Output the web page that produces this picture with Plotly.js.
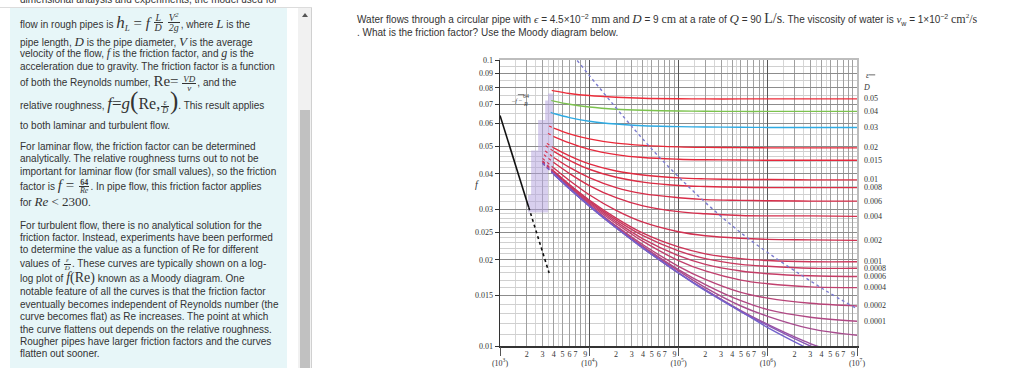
<!DOCTYPE html>
<html><head><meta charset="utf-8">
<script src="https://cdn.plot.ly/plotly-3.0.1.min.js"></script>
<style>
body{margin:0;width:1024px;height:368px;overflow:hidden;background:#fff;position:relative;font-family:'Liberation Sans',Arial,sans-serif;color:#333;font-size:10px;}
.ln{position:absolute;left:20px;white-space:nowrap;line-height:14px;height:14px;}
.q{position:absolute;left:357px;white-space:nowrap;line-height:14px;height:14px;}
.m{font-family:'Liberation Serif','DejaVu Serif',serif;line-height:0;}
.i{font-style:italic;}
.fr{display:inline-block;vertical-align:middle;text-align:center;font-family:'Liberation Serif','DejaVu Serif',serif;font-style:italic;line-height:0.92;margin:-10px 1px;position:relative;}
.fr>span{display:block;padding:0 1px;}
.fr>span.d{border-top:1px solid #333;}
sup,sub{line-height:0;font-size:7px;}
#panel{position:absolute;left:10px;top:8px;width:277px;height:360px;background:#e7f6f8;}
#topline{position:absolute;left:0;top:7px;width:312px;height:1px;background:#dcdcdc;}
#track{position:absolute;left:298px;top:8px;width:13px;height:360px;background:#f1f1f1;border-right:1px solid #d0d0d0;}
#thumb{position:absolute;left:300px;top:110px;width:10px;height:258px;background:#c1c1c1;}
#arrow{position:absolute;left:302px;top:13px;width:0;height:0;border-left:3.5px solid transparent;border-right:3.5px solid transparent;border-bottom:4px solid #555;}
#chart{position:absolute;left:440px;top:50px;width:500px;height:318px;}
</style></head>
<body>
<div id="panel"></div>
<div class="ln" style="top:-7px;">dimensional analysis and experiments, the model used for</div>
<div id="topline"></div>
<div id="track"></div><div id="thumb"></div><div id="arrow"></div>

<div class="ln" style="top:18px">flow in rough pipes is <span class="m i" style="font-size:17px">h</span><sub class="m i" style="font-size:9px">L</sub><span class="m" style="font-size:15px"> = </span><span class="m i" style="font-size:15px">f</span> <span class="fr" style="font-size:10px;top:-3px"><span>L</span><span class="d">D</span></span> <span class="fr" style="font-size:10px;top:-3px"><span>V<sup>2</sup></span><span class="d">2g</span></span>, where <span class="m i" style="font-size:13px">L</span> is the</div>
<div class="ln" style="top:36px">pipe length, <span class="m i" style="font-size:13px">D</span> is the pipe diameter, <span class="m i" style="font-size:13px">V</span> is the average</div>
<div class="ln" style="top:47px">velocity of the flow, <span class="m i" style="font-size:12px">f</span> is the friction factor, and <span class="m i" style="font-size:12px">g</span> is the</div>
<div class="ln" style="top:60px">acceleration due to gravity. The friction factor is a function</div>
<div class="ln" style="top:76px">of both the Reynolds number, <span class="m" style="font-size:15px">Re</span><span class="m" style="font-size:15px">=</span> <span class="fr" style="font-size:9px"><span>VD</span><span class="d">ν</span></span>, and the</div>
<div class="ln" style="top:99px">relative roughness, <span class="m i" style="font-size:17px">f</span><span class="m" style="font-size:17px">=</span><span class="m i" style="font-size:17px">g</span><span class="m" style="font-size:25px">(</span><span class="m" style="font-size:16px">Re,</span><span class="fr" style="font-size:8px"><span>ε</span><span class="d">D</span></span><span class="m" style="font-size:25px">)</span>. This result applies</div>
<div class="ln" style="top:119px">to both laminar and turbulent flow.</div>
<div class="ln" style="top:140px">For laminar flow, the friction factor can be determined</div>
<div class="ln" style="top:152px">analytically. The relative roughness turns out to not be</div>
<div class="ln" style="top:165px">important for laminar flow (for small values), so the friction</div>
<div class="ln" style="top:180px">factor is <span class="m i" style="font-size:15px">f</span><span class="m" style="font-size:15px"> = </span><span class="fr" style="font-size:8px;top:-1px"><span style="font-style:normal;font-weight:bold">64</span><span class="d">Re</span></span>. In pipe flow, this friction factor applies</div>
<div class="ln" style="top:196px">for <span class="m i" style="font-size:13px">Re</span><span class="m" style="font-size:13px"> &lt; 2300</span>.</div>
<div class="ln" style="top:219px">For turbulent flow, there is no analytical solution for the</div>
<div class="ln" style="top:231px">friction factor. Instead, experiments have been performed</div>
<div class="ln" style="top:243px">to determine the value as a function of Re for different</div>
<div class="ln" style="top:257px">values of <span class="fr" style="font-size:7px"><span>ε</span><span class="d">D</span></span>. These curves are typically shown on a log-</div>
<div class="ln" style="top:272px">log plot of <span class="m" style="font-size:14px"><i>f</i>(Re)</span> known as a Moody diagram. One</div>
<div class="ln" style="top:285px">notable feature of all the curves is that the friction factor</div>
<div class="ln" style="top:298px">eventually becomes independent of Reynolds number (the</div>
<div class="ln" style="top:310px">curve becomes flat) as Re increases. The point at which</div>
<div class="ln" style="top:323px">the curve flattens out depends on the relative roughness.</div>
<div class="ln" style="top:335px">Rougher pipes have larger friction factors and the curves</div>
<div class="ln" style="top:347px">flatten out sooner.</div>

<div class="q" style="top:13px">Water flows through a circular pipe with <span class="m i" style="font-size:11px">ϵ</span> = 4.5×10<sup>−2</sup> <span class="m" style="font-size:12px">mm</span> and <span class="m i" style="font-size:13px">D</span> = 9 <span class="m" style="font-size:12px">cm</span> at a rate of <span class="m i" style="font-size:13px">Q</span> = 90 <span class="m" style="font-size:14px">L/s</span>. The viscosity of water is <span class="m i" style="font-size:11px">ν</span><sub>w</sub> = 1×10<sup>−2</sup> <span class="m" style="font-size:12px">cm<sup>2</sup>/s</span></div>
<div class="q" style="top:26px">. What is the friction factor? Use the Moody diagram below.</div>

<div id="chart"></div>
<script>
// ---------- data ----------
const reT = [4000, 6000, 10000, 20000, 40000, 100000, 200000, 500000, 1000000, 3000000, 10000000];

const f_050 = [0.0780, 0.0764, 0.0751, 0.0741, 0.0735, 0.0732, 0.0731, 0.0731, 0.0731, 0.0731, 0.0731];
const f_040 = [0.0718, 0.0700, 0.0685, 0.0673, 0.0667, 0.0663, 0.0662, 0.0661, 0.0661, 0.0661, 0.0661];
const f_030 = [0.0650, 0.0629, 0.0611, 0.0597, 0.0589, 0.0585, 0.0583, 0.0582, 0.0581, 0.0581, 0.0581];
const f_020 = [0.0578, 0.0552, 0.0530, 0.0512, 0.0503, 0.0497, 0.0495, 0.0494, 0.0493, 0.0493, 0.0493];
const f_015 = [0.0540, 0.0513, 0.0487, 0.0467, 0.0456, 0.0450, 0.0448, 0.0447, 0.0446, 0.0446, 0.0446];
const f_010 = [0.0493, 0.0462, 0.0433, 0.0409, 0.0396, 0.0387, 0.0384, 0.0382, 0.0382, 0.0381, 0.0381];
const f_008 = [0.0479, 0.0446, 0.0415, 0.0389, 0.0374, 0.0364, 0.0361, 0.0359, 0.0358, 0.0358, 0.0358];
const f_006 = [0.0456, 0.0421, 0.0388, 0.0358, 0.0341, 0.0330, 0.0325, 0.0323, 0.0322, 0.0321, 0.0321];
const f_004 = [0.0438, 0.0401, 0.0364, 0.0330, 0.0309, 0.0295, 0.0290, 0.0286, 0.0285, 0.0285, 0.0284];
const f_002 = [0.0419, 0.0379, 0.0338, 0.0298, 0.0271, 0.0251, 0.0243, 0.0238, 0.0236, 0.0235, 0.0234];
const f_0010 = [0.0409, 0.0367, 0.0324, 0.0280, 0.0248, 0.0222, 0.0210, 0.0202, 0.0199, 0.0197, 0.0197];
const f_0008 = [0.0407, 0.0365, 0.0321, 0.0276, 0.0243, 0.0215, 0.0202, 0.0193, 0.0190, 0.0187, 0.0187];
const f_0006 = [0.0405, 0.0362, 0.0318, 0.0272, 0.0237, 0.0207, 0.0193, 0.0183, 0.0179, 0.0176, 0.0175];
const f_0004 = [0.0403, 0.0360, 0.0315, 0.0268, 0.0232, 0.0199, 0.0183, 0.0170, 0.0165, 0.0161, 0.0160];
const f_0002 = [0.0401, 0.0358, 0.0312, 0.0263, 0.0226, 0.0190, 0.0171, 0.0154, 0.0147, 0.0141, 0.0138];
const f_0001 = [0.0400, 0.0356, 0.0310, 0.0261, 0.0223, 0.0185, 0.0164, 0.0144, 0.0134, 0.0126, 0.0122];
const f_00005 = [0.0400, 0.0356, 0.0310, 0.0260, 0.0221, 0.0183, 0.0160, 0.0138, 0.0127, 0.0115, 0.0109];
const f_00001 = [0.0399, 0.0355, 0.0309, 0.0259, 0.0220, 0.0180, 0.0157, 0.0133, 0.0119, 0.0102, 0.0090];
const f_000005 = [0.0399, 0.0355, 0.0309, 0.0259, 0.0220, 0.0180, 0.0157, 0.0132, 0.0118, 0.0100, 0.0086];
const f_smooth = [0.0399, 0.0355, 0.0309, 0.0259, 0.0220, 0.0180, 0.0156, 0.0132, 0.0116, 0.0097, 0.0081];

// start of each curve's dotted (transitional) lead-in
const leadRe = [3800, 3750, 3700, 3550, 3450, 3350, 3250, 3200, 3100, 3000, 3000, 3000, 3000, 3000, 3000, 3000, 3000, 3000, 3000, 3000];
const leadF = [0.0783, 0.0722, 0.0656, 0.0588, 0.0554, 0.0511, 0.0502, 0.0481, 0.0467, 0.0453, 0.0444, 0.0442, 0.0441, 0.0439, 0.0437, 0.0436, 0.0436, 0.0435, 0.0435, 0.0435];

const roughLabels = ['0.05','0.04','0.03','0.02','0.015','0.01','0.008','0.006','0.004','0.002','0.001','0.0008','0.0006','0.0004','0.0002','0.0001'];

const lamRe = [1000, 2100];
const lamF = [0.064, 0.0305];
const lamDotRe = [2100, 3550];
const lamDotF = [0.0305, 0.018];

const bndRe = [7330, 62800, 460000, 3940000, 10000000];
const bndF = [0.0996, 0.0453, 0.0254, 0.0160, 0.0135];

const transRe = [3459, 3946, 3946, 3459, 3459, 2065, 2065, 2230, 2230, 2673, 2673, 3206, 3206, 3459];
const transF = [0.0764, 0.0764, 0.0411, 0.0411, 0.0293, 0.0293, 0.0337, 0.0337, 0.0483, 0.0483, 0.0617, 0.0617, 0.0722, 0.0722];

// ---------- ticks / grid ----------
const xDigitVals = [2000,3000,4000,5000,6000,7000,8000,9000, 20000,30000,40000,50000,60000,70000,80000,90000, 200000,300000,400000,500000,600000,700000,800000,900000, 2000000,3000000,4000000,5000000,6000000,7000000,8000000,9000000];
const xDigitText = ['2','3','4','5','6','7','','9', '2','3','4','5','6','7','','9', '2','3','4','5','6','7','','9', '2','3','4','5','6','7','','9'];
const xLightVals = [1500,2500,3500,4500, 15000,25000,35000,45000, 150000,250000,350000,450000, 1500000,2500000,3500000,4500000];
const xDecVals = [1000, 10000, 100000, 1000000, 10000000];
const xDecText = ['(10<sup>3</sup>)', '(10<sup>4</sup>)', '(10<sup>5</sup>)', '(10<sup>6</sup>)', '(10<sup>7</sup>)'];
const xDarkVals = [2000, 4000, 20000, 200000, 2000000];
const yTickVals = [0.01,0.015,0.02,0.025,0.03,0.04,0.05,0.06,0.07,0.08,0.09,0.1];
const yTickText = ['0.01','0.015','0.02','0.025','0.03','0.04','0.05','0.06','0.07','0.08','0.09','0.1'];
const yLightVals = [0.011,0.012,0.013,0.014,0.016,0.017,0.018,0.019,0.021,0.022,0.023,0.024,0.026,0.027,0.028,0.029,0.032,0.034,0.036,0.038,0.042,0.044,0.046,0.048,0.055,0.065,0.075,0.085,0.095];

// ---------- styling ----------
const curves = [f_050,f_040,f_030,f_020,f_015,f_010,f_008,f_006,f_004,f_002,f_0010,f_0008,f_0006,f_0004,f_0002,f_0001,f_00005,f_00001,f_000005,f_smooth];
const colors = ['#ec2d3a','#7cc24e','#2eaae2','#ea2838','#e6283c','#e02a40','#dc2c44','#d82c48','#d42e4c','#d03050','#cc3458','#c8385e','#c43c66','#c0406e','#b84478','#b04884','#a84c8e','#9a50a0','#8a58b4','#7262cc'];

const traces = [];
traces.push({x:transRe, y:transF, mode:'lines', fill:'toself', fillcolor:'rgba(178,160,222,0.5)', line:{width:0}, hoverinfo:'skip'});
traces.push({x:lamRe, y:lamF, mode:'lines', line:{color:'#111', width:1.6}, hoverinfo:'skip'});
traces.push({x:lamDotRe, y:lamDotF, mode:'lines', line:{color:'#111', width:1.6, dash:'dot'}, hoverinfo:'skip'});
curves.forEach((c, i) => {
  traces.push({x:[leadRe[i], reT[0]], y:[leadF[i], c[0]], mode:'lines', line:{color:colors[i], width:1.1, dash:'dot'}, hoverinfo:'skip'});
  traces.push({x:reT, y:c, mode:'lines', line:{color:colors[i], width:1.4, shape:'spline'}, hoverinfo:'skip'});
});
traces.push({x:bndRe, y:bndF, mode:'lines', line:{color:'#7c7cd0', width:1.4, dash:'dot', shape:'spline'}, hoverinfo:'skip'});
traces.push({x:[], y:[], xaxis:'x2', yaxis:'y', mode:'lines', hoverinfo:'skip'});
traces.push({x:[], y:[], xaxis:'x3', yaxis:'y', mode:'lines', hoverinfo:'skip'});
traces.push({x:[], y:[], xaxis:'x', yaxis:'y2', mode:'lines', hoverinfo:'skip'});

const serif = 'Liberation Serif, DejaVu Serif, serif';
const annotations = roughLabels.map((t, i) => ({
  xref:'paper', x:1, xanchor:'left', xshift:5, yref:'y', y:Math.log10(curves[i][curves[i].length-1]),
  text:t, showarrow:false, font:{family:serif, size:8, color:'#333'}
}));
annotations.push({xref:'paper', yref:'paper', x:1.042, y:0.968, text:'<i>ε</i>', showarrow:false, font:{family:serif, size:8, color:'#333'}});
annotations.push({xref:'paper', yref:'paper', x:1.042, y:0.926, text:'<i>D</i>', showarrow:false, font:{family:serif, size:8, color:'#333'}});
annotations.push({xref:'paper', yref:'paper', x:-0.076, y:0.563, text:'<i>f</i>', showarrow:false, font:{family:serif, size:10, color:'#333'}});
annotations.push({xref:'paper', yref:'paper', x:0.024, y:0.878, text:'‒<i>f</i> − ', showarrow:false, font:{family:serif, size:6.5, color:'#444'}});
annotations.push({xref:'paper', yref:'paper', x:0.058, y:0.893, text:'64', showarrow:false, font:{family:serif, size:6, color:'#444'}});
annotations.push({xref:'paper', yref:'paper', x:0.058, y:0.864, text:'<i>R</i>', showarrow:false, font:{family:serif, size:6, color:'#444'}});

const shapes = [
  {type:'line', xref:'paper', yref:'paper', x0:1.034, x1:1.051, y0:0.948, y1:0.948, line:{color:'#444', width:0.8}},
  {type:'line', xref:'paper', yref:'paper', x0:0.05, x1:0.067, y0:0.879, y1:0.879, line:{color:'#444', width:0.7}}
];

const layout = {
  width:500, height:318,
  margin:{l:60, r:83, t:10, b:22},
  paper_bgcolor:'rgba(0,0,0,0)', plot_bgcolor:'#ffffff',
  showlegend:false,
  font:{family:serif, size:8, color:'#333'},
  xaxis:{type:'log', range:[3,7], tickmode:'array', tickvals:xDigitVals, ticktext:xDigitText, ticks:'', tickangle:0,
    showgrid:true, gridcolor:'#a0a0a0', gridwidth:1, showline:true, linecolor:'#333', linewidth:1.5, zeroline:false,
    tickfont:{family:serif, size:8, color:'#333'}, ticklabelstandoff:0,
    minor:{tickmode:'array', tickvals:xLightVals, showgrid:true, gridcolor:'#d6d6d6', ticks:''}},
  xaxis2:{type:'log', range:[3,7], overlaying:'x', anchor:'y', side:'bottom', tickmode:'array', tickvals:xDecVals, ticktext:xDecText,
    ticks:'outside', ticklen:9, tickcolor:'#555', showgrid:true, gridcolor:'#585858', showline:false, zeroline:false, tickangle:0,
    tickfont:{family:serif, size:8, color:'#333'},
    minor:{tickmode:'array', tickvals:xDarkVals, showgrid:true, gridcolor:'#666666', ticks:''}},
  xaxis3:{type:'log', range:[3,7], overlaying:'x', anchor:'y', side:'top', showline:true, linecolor:'#bdbdbd', linewidth:2,
    showgrid:false, showticklabels:false, ticks:'', zeroline:false},
  yaxis:{type:'log', range:[-2,-1], tickmode:'array', tickvals:yTickVals, ticktext:yTickText, ticks:'outside', ticklen:4, tickcolor:'#333',
    showgrid:true, gridcolor:'#8c8c8c', showline:true, linecolor:'#333', linewidth:1.5, zeroline:false,
    tickfont:{family:serif, size:8, color:'#333'},
    minor:{tickmode:'array', tickvals:yLightVals, showgrid:true, gridcolor:'#d0d0d0', ticks:''}},
  yaxis2:{type:'log', range:[-2,-1], overlaying:'y', anchor:'x', side:'right', showline:true, linecolor:'#bdbdbd', linewidth:2,
    showgrid:false, showticklabels:false, ticks:'', zeroline:false},
  annotations:annotations,
  shapes:shapes
};

Plotly.newPlot('chart', traces, layout, {staticPlot:true, displayModeBar:false});
</script>
</body></html>
